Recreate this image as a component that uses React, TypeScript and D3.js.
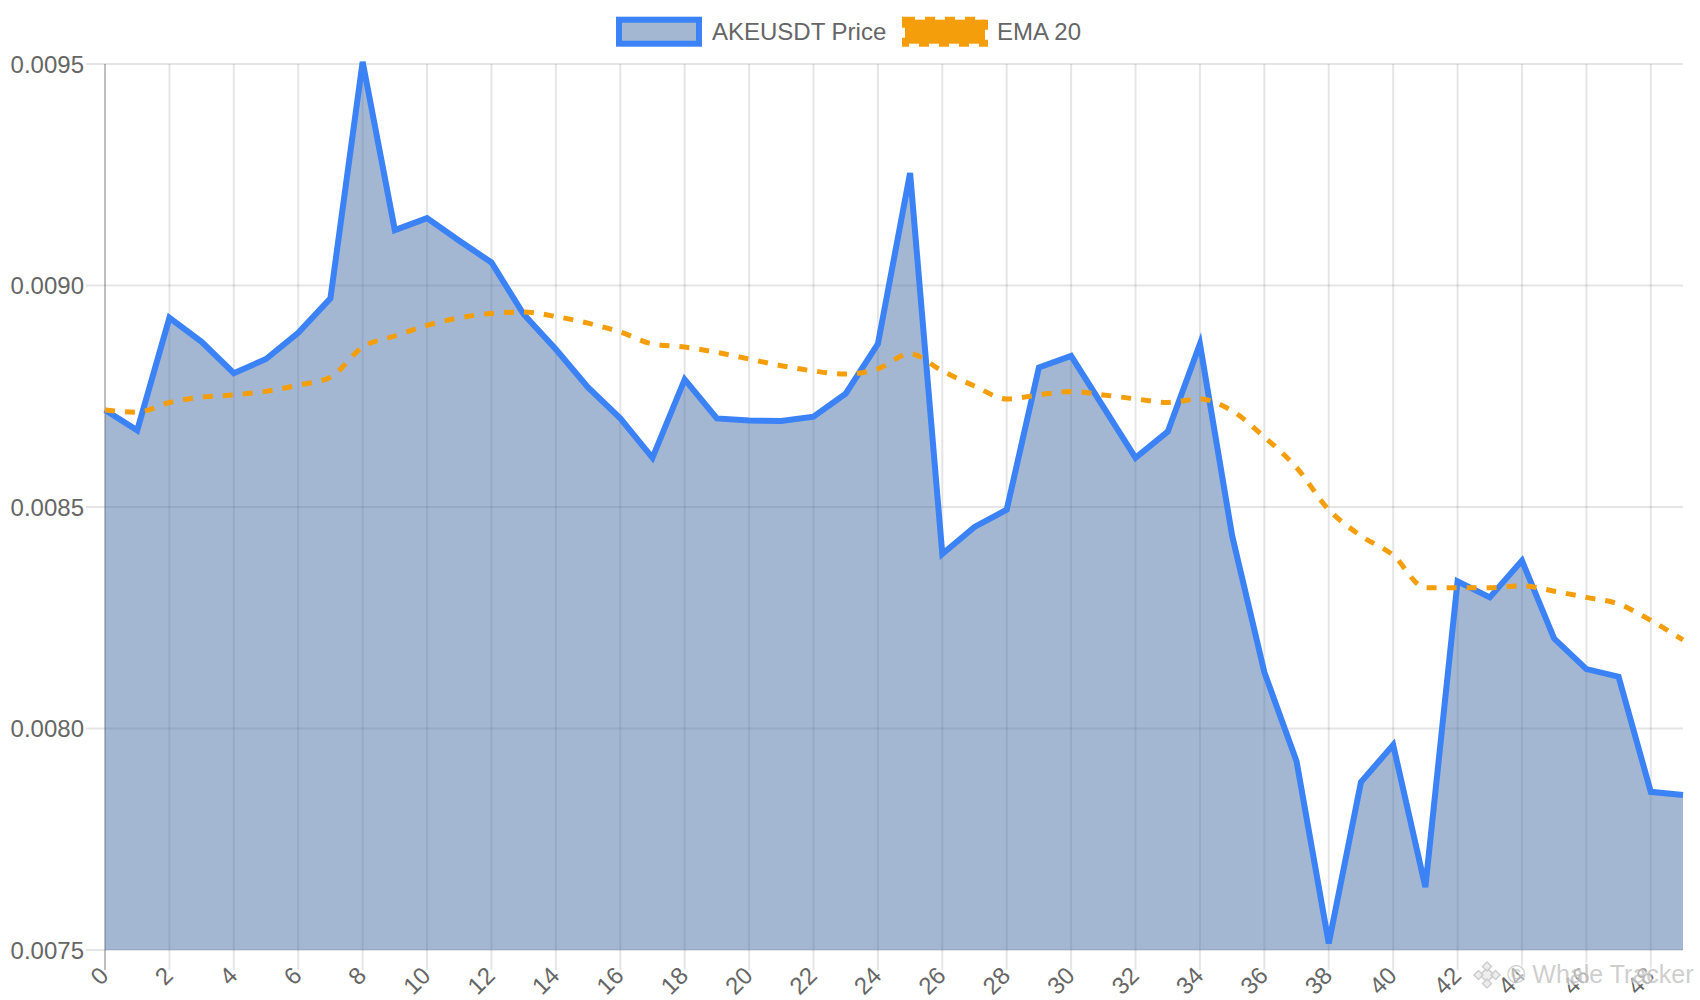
import React from "react";
import * as d3 from "d3";

const categories: string[] = [
  "0","1","2","3","4","5","6","7","8","9",
  "10","11","12","13","14","15","16","17","18","19",
  "20","21","22","23","24","25","26","27","28","29",
  "30","31","32","33","34","35","36","37","38","39",
  "40","41","42","43","44","45","46","47","48","49",
];

const priceValues: number[] = [
  0.008719, 0.008673, 0.008927, 0.008873, 0.008802, 0.008834, 0.008893, 0.008971, 0.009505, 0.009125,
  0.009152, 0.009101, 0.009052, 0.008935, 0.008856, 0.008770, 0.008700, 0.008611, 0.008788, 0.008700,
  0.008695, 0.008694, 0.008704, 0.008756, 0.008868, 0.009254, 0.008394, 0.008455, 0.008494, 0.008815,
  0.008841, 0.008726, 0.008611, 0.008670, 0.008868, 0.008435, 0.008127, 0.007926, 0.007515, 0.007879,
  0.007963, 0.007642, 0.008332, 0.008296, 0.008379, 0.008203, 0.008134, 0.008117, 0.007857, 0.007850,
];

const emaValues: number[] = [
  0.008719, 0.008714, 0.008736, 0.008748, 0.008753, 0.008761, 0.008775, 0.008793, 0.008861, 0.008886,
  0.008910, 0.008927, 0.008937, 0.008940, 0.008930, 0.008915, 0.008895, 0.008868, 0.008861, 0.008849,
  0.008834, 0.008819, 0.008807, 0.008800, 0.008812, 0.008846, 0.008807, 0.008773, 0.008744, 0.008753,
  0.008761, 0.008753, 0.008744, 0.008736, 0.008744, 0.008717, 0.008658, 0.008589, 0.008494, 0.008435,
  0.008391, 0.008318, 0.008318, 0.008318, 0.008322, 0.008310, 0.008296, 0.008281, 0.008244, 0.008200,
];

const yTicks: number[] = [0.0075, 0.008, 0.0085, 0.009, 0.0095];
const yTickLabels: string[] = ["0.0075", "0.0080", "0.0085", "0.0090", "0.0095"];

const seriesNames: string[] = ["AKEUSDT Price", "EMA 20"];

const W = 1700;
const H = 1000;
const M = { left: 105, right: 17, top: 64, bottom: 50 };
const FONT = "'Liberation Sans', Arial, Helvetica, sans-serif";
const TEXT = "#666666";
const GRID = "rgba(0,0,0,0.1)";
const BLUE = "#3b82f6";
const FILL = "rgba(74,111,165,0.5)";
const ORANGE = "#f59e0b";

export default function App() {
  const x = d3
    .scalePoint<string>()
    .domain(categories)
    .range([M.left, W - M.right]);
  const y = d3
    .scaleLinear()
    .domain([0.0075, 0.0095])
    .range([H - M.bottom, M.top]);

  const xi = (i: number) => x(categories[i]) as number;

  const area = d3
    .area<number>()
    .x((_, i) => xi(i))
    .y0(y(0.0075))
    .y1((d) => y(d))
    .curve(d3.curveLinear);
  const priceLine = d3
    .line<number>()
    .x((_, i) => xi(i))
    .y((d) => y(d))
    .curve(d3.curveLinear);
  const emaLine = d3
    .line<number>()
    .x((_, i) => xi(i))
    .y((d) => y(d))
    .curve(d3.curveMonotoneX);

  const tickCats = categories.filter((_, i) => i % 2 === 0);
  const bottom = H - M.bottom;

  const logoCx = 1487;
  const logoCy = 975;
  const diamonds: [number, number, number][] = [
    [0, 0, 5],
    [0, -8.5, 3.2],
    [8.5, 0, 3.2],
    [0, 8.5, 3.2],
    [-8.5, 0, 3.2],
  ];

  return (
    <div style={{ position: "absolute", left: 0, top: 0 }}>
      <svg width={W} height={H} style={{ display: "block", background: "#fff" }}>
        {/* horizontal grid */}
        {yTicks.map((t, i) => (
          <g key={"y" + i}>
            <line x1={M.left - 19} x2={W - M.right} y1={y(t)} y2={y(t)} stroke={GRID} strokeWidth={2} />
            <text
              x={84}
              y={y(t)}
              textAnchor="end"
              dominantBaseline="central"
              fontFamily={FONT}
              fontSize={24}
              fill={TEXT}
            >
              {yTickLabels[i]}
            </text>
          </g>
        ))}
        {/* vertical grid */}
        {tickCats.map((c, i) => (
          <g key={"x" + c}>
            <line
              x1={x(c)}
              x2={x(c)}
              y1={M.top}
              y2={bottom + 20}
              stroke={i === 0 ? "rgba(0,0,0,0.25)" : GRID}
              strokeWidth={2}
            />
            <text
              transform={`translate(${(x(c) as number) - 1},${bottom + 21}) rotate(-45)`}
              textAnchor="end"
              dominantBaseline="central"
              fontFamily={FONT}
              fontSize={24}
              fill={TEXT}
            >
              {c}
            </text>
          </g>
        ))}
        {/* price area + line */}
        <path d={area(priceValues) as string} fill={FILL} />
        <path d={priceLine(priceValues) as string} fill="none" stroke={BLUE} strokeWidth={6} strokeLinejoin="miter" />
        {/* EMA */}
        <path
          d={emaLine(emaValues) as string}
          fill="none"
          stroke={ORANGE}
          strokeWidth={5}
          strokeDasharray="10,10"
        />
        {/* legend */}
        <g fontFamily={FONT} fontSize={24} fill={TEXT}>
          <rect x={619} y={19.7} width={80} height={24} fill={FILL} stroke={BLUE} strokeWidth={6} />
          <text x={712} y={31} dominantBaseline="central">{seriesNames[0]}</text>
          <rect x={905} y={19.7} width={80} height={24} fill={ORANGE} stroke={ORANGE} strokeWidth={6} strokeDasharray="10,10" />
          <text x={997} y={31} dominantBaseline="central">{seriesNames[1]}</text>
        </g>
        {/* watermark */}
        <g>
          {diamonds.map(([dx, dy, r], i) => (
            <rect
              key={"d" + i}
              x={-r}
              y={-r}
              width={2 * r}
              height={2 * r}
              transform={`translate(${logoCx + dx},${logoCy + dy}) rotate(45)`}
              fill="rgba(235,235,235,0.85)"
              stroke="rgba(200,200,200,0.85)"
              strokeWidth={1.5}
            />
          ))}
          <text
            x={1507}
            y={983}
            fontFamily={FONT}
            fontSize={25}
            fill="rgba(190,190,190,0.75)"
            stroke="rgba(255,255,255,0.5)"
            strokeWidth={4}
            strokeLinejoin="round"
            style={{ paintOrder: "stroke" }}
          >
            © Whale Tracker
          </text>
        </g>
      </svg>
    </div>
  );
}
